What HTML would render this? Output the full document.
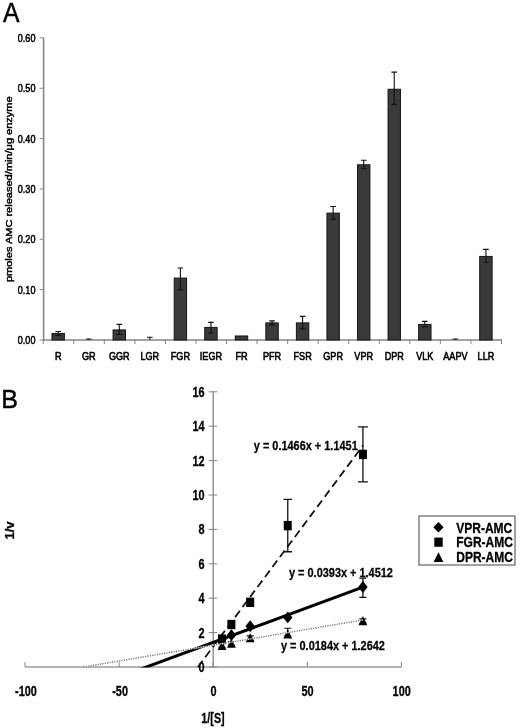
<!DOCTYPE html>
<html><head><meta charset="utf-8"><title>Figure</title>
<style>
html,body{margin:0;padding:0;background:#fff;}
svg{display:block;}
text{font-family:"Liberation Sans", Arial, sans-serif;fill:#000;}
</style></head><body>
<svg width="520" height="728" viewBox="0 0 520 728">
<rect width="520" height="728" fill="#fff"/>

<text transform="translate(3.0,21.8) scale(0.915,1.0)" font-size="27" font-weight="normal" text-anchor="start"  stroke="#000" stroke-width="0.5">A</text>
<g stroke="#858585" stroke-width="1.6" fill="none">
<line x1="43.6" y1="37.40" x2="43.6" y2="340.6"/>
<line x1="43.0" y1="340.0" x2="502.0" y2="340.0"/>
</g>
<g stroke="#858585" stroke-width="1" fill="none">
<line x1="39.7" y1="340.00" x2="43.2" y2="340.00"/>
<line x1="39.7" y1="289.65" x2="43.2" y2="289.65"/>
<line x1="39.7" y1="239.30" x2="43.2" y2="239.30"/>
<line x1="39.7" y1="188.95" x2="43.2" y2="188.95"/>
<line x1="39.7" y1="138.60" x2="43.2" y2="138.60"/>
<line x1="39.7" y1="88.25" x2="43.2" y2="88.25"/>
<line x1="39.7" y1="37.90" x2="43.2" y2="37.90"/>
<line x1="43.20" y1="340.0" x2="43.20" y2="344.0"/>
<line x1="73.75" y1="340.0" x2="73.75" y2="344.0"/>
<line x1="104.31" y1="340.0" x2="104.31" y2="344.0"/>
<line x1="134.86" y1="340.0" x2="134.86" y2="344.0"/>
<line x1="165.41" y1="340.0" x2="165.41" y2="344.0"/>
<line x1="195.97" y1="340.0" x2="195.97" y2="344.0"/>
<line x1="226.52" y1="340.0" x2="226.52" y2="344.0"/>
<line x1="257.07" y1="340.0" x2="257.07" y2="344.0"/>
<line x1="287.63" y1="340.0" x2="287.63" y2="344.0"/>
<line x1="318.18" y1="340.0" x2="318.18" y2="344.0"/>
<line x1="348.73" y1="340.0" x2="348.73" y2="344.0"/>
<line x1="379.29" y1="340.0" x2="379.29" y2="344.0"/>
<line x1="409.84" y1="340.0" x2="409.84" y2="344.0"/>
<line x1="440.39" y1="340.0" x2="440.39" y2="344.0"/>
<line x1="470.95" y1="340.0" x2="470.95" y2="344.0"/>
<line x1="501.50" y1="340.0" x2="501.50" y2="344.0"/>
</g>
<text transform="translate(35.4,343.9) scale(0.8,1.0)" font-size="11.3" font-weight="normal" text-anchor="end"  stroke="#000" stroke-width="0.55">0.00</text>
<text transform="translate(35.4,293.54999999999995) scale(0.8,1.0)" font-size="11.3" font-weight="normal" text-anchor="end"  stroke="#000" stroke-width="0.55">0.10</text>
<text transform="translate(35.4,243.20000000000002) scale(0.8,1.0)" font-size="11.3" font-weight="normal" text-anchor="end"  stroke="#000" stroke-width="0.55">0.20</text>
<text transform="translate(35.4,192.85) scale(0.8,1.0)" font-size="11.3" font-weight="normal" text-anchor="end"  stroke="#000" stroke-width="0.55">0.30</text>
<text transform="translate(35.4,142.5) scale(0.8,1.0)" font-size="11.3" font-weight="normal" text-anchor="end"  stroke="#000" stroke-width="0.55">0.40</text>
<text transform="translate(35.4,92.15) scale(0.8,1.0)" font-size="11.3" font-weight="normal" text-anchor="end"  stroke="#000" stroke-width="0.55">0.50</text>
<text transform="translate(35.4,41.799999999999976) scale(0.8,1.0)" font-size="11.3" font-weight="normal" text-anchor="end"  stroke="#000" stroke-width="0.55">0.60</text>
<text transform="translate(11.5,189.2) rotate(-90) scale(1.06,0.84)" font-size="10.4" font-weight="normal" text-anchor="middle"  stroke="#000" stroke-width="0.5">pmoles AMC released/min/μg enzyme</text>
<rect x="51.98" y="333.45" width="12.4" height="6.55" fill="#3a3a3a" stroke="#141414" stroke-width="1"/>
<path d="M58.18 331.44V335.47M55.38 331.44h5.6M55.38 335.47h5.6" stroke="#111" stroke-width="1.1" fill="none"/>
<text transform="translate(58.17666666666668,360) scale(0.835,1.0)" font-size="10.9" font-weight="normal" text-anchor="middle"  stroke="#000" stroke-width="0.6">R</text>
<path d="M88.73 338.99V340.00M85.93 338.99h5.6" stroke="#111" stroke-width="1.1" fill="none"/>
<text transform="translate(88.73,360) scale(0.835,1.0)" font-size="10.9" font-weight="normal" text-anchor="middle"  stroke="#000" stroke-width="0.6">GR</text>
<rect x="113.08" y="329.93" width="12.4" height="10.07" fill="#3a3a3a" stroke="#141414" stroke-width="1"/>
<path d="M119.28 324.39V334.46M116.48 324.39h5.6M116.48 334.46h5.6" stroke="#111" stroke-width="1.1" fill="none"/>
<text transform="translate(119.28333333333335,360) scale(0.835,1.0)" font-size="10.9" font-weight="normal" text-anchor="middle"  stroke="#000" stroke-width="0.6">GGR</text>
<path d="M149.84 337.23V340.00M147.04 337.23h5.6" stroke="#111" stroke-width="1.1" fill="none"/>
<text transform="translate(149.83666666666664,360) scale(0.835,1.0)" font-size="10.9" font-weight="normal" text-anchor="middle"  stroke="#000" stroke-width="0.6">LGR</text>
<rect x="174.19" y="278.07" width="12.4" height="61.93" fill="#3a3a3a" stroke="#141414" stroke-width="1"/>
<path d="M180.39 268.00V289.65M177.59 268.00h5.6M177.59 289.65h5.6" stroke="#111" stroke-width="1.1" fill="none"/>
<text transform="translate(180.39,360) scale(0.835,1.0)" font-size="10.9" font-weight="normal" text-anchor="middle"  stroke="#000" stroke-width="0.6">FGR</text>
<rect x="204.74" y="327.41" width="12.4" height="12.59" fill="#3a3a3a" stroke="#141414" stroke-width="1"/>
<path d="M210.94 322.38V332.95M208.14 322.38h5.6M208.14 332.95h5.6" stroke="#111" stroke-width="1.1" fill="none"/>
<text transform="translate(210.94333333333333,360) scale(0.835,1.0)" font-size="10.9" font-weight="normal" text-anchor="middle"  stroke="#000" stroke-width="0.6">IEGR</text>
<rect x="235.30" y="335.97" width="12.4" height="4.03" fill="#3a3a3a" stroke="#141414" stroke-width="1"/>
<text transform="translate(241.49666666666667,360) scale(0.835,1.0)" font-size="10.9" font-weight="normal" text-anchor="middle"  stroke="#000" stroke-width="0.6">FR</text>
<rect x="265.85" y="322.88" width="12.4" height="17.12" fill="#3a3a3a" stroke="#141414" stroke-width="1"/>
<path d="M272.05 320.87V324.89M269.25 320.87h5.6M269.25 324.89h5.6" stroke="#111" stroke-width="1.1" fill="none"/>
<text transform="translate(272.05,360) scale(0.835,1.0)" font-size="10.9" font-weight="normal" text-anchor="middle"  stroke="#000" stroke-width="0.6">PFR</text>
<rect x="296.40" y="322.88" width="12.4" height="17.12" fill="#3a3a3a" stroke="#141414" stroke-width="1"/>
<path d="M302.60 316.34V328.92M299.80 316.34h5.6M299.80 328.92h5.6" stroke="#111" stroke-width="1.1" fill="none"/>
<text transform="translate(302.6033333333333,360) scale(0.835,1.0)" font-size="10.9" font-weight="normal" text-anchor="middle"  stroke="#000" stroke-width="0.6">FSR</text>
<rect x="326.96" y="213.12" width="12.4" height="126.88" fill="#3a3a3a" stroke="#141414" stroke-width="1"/>
<path d="M333.16 206.57V219.16M330.36 206.57h5.6M330.36 219.16h5.6" stroke="#111" stroke-width="1.1" fill="none"/>
<text transform="translate(333.15666666666664,360) scale(0.835,1.0)" font-size="10.9" font-weight="normal" text-anchor="middle"  stroke="#000" stroke-width="0.6">GPR</text>
<rect x="357.51" y="164.78" width="12.4" height="175.22" fill="#3a3a3a" stroke="#141414" stroke-width="1"/>
<path d="M363.71 160.25V168.81M360.91 160.25h5.6M360.91 168.81h5.6" stroke="#111" stroke-width="1.1" fill="none"/>
<text transform="translate(363.71,360) scale(0.835,1.0)" font-size="10.9" font-weight="normal" text-anchor="middle"  stroke="#000" stroke-width="0.6">VPR</text>
<rect x="388.06" y="89.26" width="12.4" height="250.74" fill="#3a3a3a" stroke="#141414" stroke-width="1"/>
<path d="M394.26 72.14V104.36M391.46 72.14h5.6M391.46 104.36h5.6" stroke="#111" stroke-width="1.1" fill="none"/>
<text transform="translate(394.2633333333333,360) scale(0.835,1.0)" font-size="10.9" font-weight="normal" text-anchor="middle"  stroke="#000" stroke-width="0.6">DPR</text>
<rect x="418.62" y="324.39" width="12.4" height="15.61" fill="#3a3a3a" stroke="#141414" stroke-width="1"/>
<path d="M424.82 321.37V326.91M422.02 321.37h5.6M422.02 326.91h5.6" stroke="#111" stroke-width="1.1" fill="none"/>
<text transform="translate(424.81666666666666,360) scale(0.835,1.0)" font-size="10.9" font-weight="normal" text-anchor="middle"  stroke="#000" stroke-width="0.6">VLK</text>
<path d="M455.37 338.99V340.00M452.57 338.99h5.6" stroke="#111" stroke-width="1.1" fill="none"/>
<text transform="translate(455.37,360) scale(0.835,1.0)" font-size="10.9" font-weight="normal" text-anchor="middle"  stroke="#000" stroke-width="0.6">AAPV</text>
<rect x="479.72" y="256.42" width="12.4" height="83.58" fill="#3a3a3a" stroke="#141414" stroke-width="1"/>
<path d="M485.92 249.37V262.46M483.12 249.37h5.6M483.12 262.46h5.6" stroke="#111" stroke-width="1.1" fill="none"/>
<text transform="translate(485.92333333333335,360) scale(0.835,1.0)" font-size="10.9" font-weight="normal" text-anchor="middle"  stroke="#000" stroke-width="0.6">LLR</text>
<text transform="translate(1.2,407.7) scale(0.95,1.0)" font-size="26.4" font-weight="normal" text-anchor="start"  stroke="#000" stroke-width="0.5">B</text>
<g stroke="#858585" fill="none">
<line x1="213.2" y1="391.30" x2="213.2" y2="667" stroke-width="1.3"/>
<line x1="25.00" y1="667" x2="401.40" y2="667" stroke-width="1" stroke="#6a6a6a"/>
</g>
<g stroke="#858585" stroke-width="1" fill="none">
<line x1="208.7" y1="667.00" x2="217.2" y2="667.00"/>
<line x1="208.7" y1="632.60" x2="217.2" y2="632.60"/>
<line x1="208.7" y1="598.20" x2="217.2" y2="598.20"/>
<line x1="208.7" y1="563.80" x2="217.2" y2="563.80"/>
<line x1="208.7" y1="529.40" x2="217.2" y2="529.40"/>
<line x1="208.7" y1="495.00" x2="217.2" y2="495.00"/>
<line x1="208.7" y1="460.60" x2="217.2" y2="460.60"/>
<line x1="208.7" y1="426.20" x2="217.2" y2="426.20"/>
<line x1="208.7" y1="391.80" x2="217.2" y2="391.80"/>
<line x1="25.00" y1="662" x2="25.00" y2="667"/>
<line x1="119.10" y1="662" x2="119.10" y2="667"/>
<line x1="213.20" y1="662" x2="213.20" y2="667"/>
<line x1="307.30" y1="662" x2="307.30" y2="667"/>
<line x1="401.40" y1="662" x2="401.40" y2="667"/>
</g>
<text transform="translate(204.5,672.0) scale(0.79,1.0)" font-size="13.8" font-weight="bold" text-anchor="end"  stroke="#000" stroke-width="0.3">0</text>
<text transform="translate(204.5,637.6) scale(0.79,1.0)" font-size="13.8" font-weight="bold" text-anchor="end"  stroke="#000" stroke-width="0.3">2</text>
<text transform="translate(204.5,603.2) scale(0.79,1.0)" font-size="13.8" font-weight="bold" text-anchor="end"  stroke="#000" stroke-width="0.3">4</text>
<text transform="translate(204.5,568.8) scale(0.79,1.0)" font-size="13.8" font-weight="bold" text-anchor="end"  stroke="#000" stroke-width="0.3">6</text>
<text transform="translate(204.5,534.4) scale(0.79,1.0)" font-size="13.8" font-weight="bold" text-anchor="end"  stroke="#000" stroke-width="0.3">8</text>
<text transform="translate(204.5,500.0) scale(0.79,1.0)" font-size="13.8" font-weight="bold" text-anchor="end"  stroke="#000" stroke-width="0.3">10</text>
<text transform="translate(204.5,465.6) scale(0.79,1.0)" font-size="13.8" font-weight="bold" text-anchor="end"  stroke="#000" stroke-width="0.3">12</text>
<text transform="translate(204.5,431.20000000000005) scale(0.79,1.0)" font-size="13.8" font-weight="bold" text-anchor="end"  stroke="#000" stroke-width="0.3">14</text>
<text transform="translate(204.5,396.8) scale(0.79,1.0)" font-size="13.8" font-weight="bold" text-anchor="end"  stroke="#000" stroke-width="0.3">16</text>
<text transform="translate(26.0,696.3) scale(0.79,1.0)" font-size="13.8" font-weight="bold" text-anchor="middle"  stroke="#000" stroke-width="0.3">-100</text>
<text transform="translate(120.1,696.3) scale(0.79,1.0)" font-size="13.8" font-weight="bold" text-anchor="middle"  stroke="#000" stroke-width="0.3">-50</text>
<text transform="translate(213.5,696.3) scale(0.79,1.0)" font-size="13.8" font-weight="bold" text-anchor="middle"  stroke="#000" stroke-width="0.3">0</text>
<text transform="translate(307.59999999999997,696.3) scale(0.79,1.0)" font-size="13.8" font-weight="bold" text-anchor="middle"  stroke="#000" stroke-width="0.3">50</text>
<text transform="translate(401.7,696.3) scale(0.79,1.0)" font-size="13.8" font-weight="bold" text-anchor="middle"  stroke="#000" stroke-width="0.3">100</text>
<text transform="translate(213,723) scale(0.78,1.0)" font-size="13.8" font-weight="bold" text-anchor="middle"  stroke="#000" stroke-width="0.3">1/[S]</text>
<text transform="translate(13.6,530.5) rotate(-90) scale(0.97,0.92)" font-size="13.5" font-weight="bold" text-anchor="middle"  stroke="#000" stroke-width="0.3">1/v</text>
<clipPath id="plotb"><rect x="20" y="380" width="400" height="287.4"/></clipPath>
<line x1="197.76" y1="667.22" x2="362.92" y2="445.58" clip-path="url(#plotb)" stroke="#111" stroke-width="1.8" stroke-dasharray="8 4.5"/>
<line x1="133.68" y1="671.69" x2="362.92" y2="587.12" clip-path="url(#plotb)" stroke="#000" stroke-width="3.0"/>
<path d="M222.00 633.58L226.69 639.48L222.00 645.38L217.30 639.48Z" fill="#000"/>
<path d="M231.39 629.28L236.09 635.18L231.39 641.08L226.69 635.18Z" fill="#000"/>
<path d="M250.18 620.34L254.88 626.24L250.18 632.14L245.48 626.24Z" fill="#000"/>
<path d="M287.76 611.56L292.46 617.46L287.76 623.36L283.06 617.46Z" fill="#000"/>
<path d="M362.92 578.08V597.34M359.32 578.08h7.2M359.32 597.34h7.2" stroke="#111" stroke-width="1.3" fill="none"/>
<path d="M362.92 581.12L367.62 587.02L362.92 592.92L358.22 587.02Z" fill="#000"/>
<rect x="218.00" y="634.44" width="8.0" height="9.4" fill="#000"/>
<rect x="227.39" y="619.82" width="8.0" height="9.4" fill="#000"/>
<rect x="246.18" y="597.63" width="8.0" height="9.4" fill="#000"/>
<path d="M287.76 499.47V551.76M283.56 499.47h8.4M283.56 551.76h8.4" stroke="#111" stroke-width="1.3" fill="none"/>
<rect x="283.76" y="520.92" width="8.0" height="9.4" fill="#000"/>
<path d="M362.92 426.89V481.93M357.92 426.89h10M357.92 481.93h10" stroke="#111" stroke-width="1.3" fill="none"/>
<rect x="358.92" y="449.71" width="8.0" height="9.4" fill="#000"/>
<path d="M222.00 643.78V647.22M218.50 643.78h7.0M218.50 647.22h7.0" stroke="#111" stroke-width="1.1" fill="none"/>
<path d="M222.00 640.70L226.40 649.90H217.59Z" fill="#000"/>
<path d="M231.39 641.72V645.16M227.89 641.72h7.0M227.89 645.16h7.0" stroke="#111" stroke-width="1.1" fill="none"/>
<path d="M231.39 638.64L235.79 647.84H226.99Z" fill="#000"/>
<path d="M250.18 635.87V640.00M246.68 635.87h7.0M246.68 640.00h7.0" stroke="#111" stroke-width="1.1" fill="none"/>
<path d="M250.18 633.13L254.58 642.33H245.78Z" fill="#000"/>
<path d="M287.76 628.30V635.70M284.26 628.30h7.0M284.26 635.70h7.0" stroke="#111" stroke-width="1.1" fill="none"/>
<path d="M287.76 629.18L292.16 638.38H283.36Z" fill="#000"/>
<path d="M362.92 618.84V622.97M359.42 618.84h7.0M359.42 622.97h7.0" stroke="#111" stroke-width="1.1" fill="none"/>
<path d="M362.92 616.10L367.32 625.30H358.52Z" fill="#000"/>
<line x1="83.51" y1="667.00" x2="362.92" y2="619.94" clip-path="url(#plotb)" stroke="#fff" stroke-width="1.4" stroke-dasharray="1.2 1.2" stroke-dashoffset="1.2"/>
<line x1="83.51" y1="667.00" x2="362.92" y2="619.94" clip-path="url(#plotb)" stroke="#777" stroke-width="1.4" stroke-dasharray="1.2 1.2"/>
<text transform="translate(253.8,450) scale(0.875,1.0)" font-size="12.5" font-weight="bold" text-anchor="start"  stroke="#000" stroke-width="0.25">y = 0.1466x + 1.1451</text>
<text transform="translate(289,577) scale(0.875,1.0)" font-size="12.5" font-weight="bold" text-anchor="start"  stroke="#000" stroke-width="0.25">y = 0.0393x + 1.4512</text>
<text transform="translate(281,650) scale(0.875,1.0)" font-size="12.5" font-weight="bold" text-anchor="start"  stroke="#000" stroke-width="0.25">y = 0.0184x + 1.2642</text>
<rect x="419" y="516" width="96" height="49" fill="#fff" stroke="#444" stroke-width="1"/>
<path d="M438.5 522.0L443.7 527.2L438.5 532.4000000000001L433.3 527.2Z" fill="#000"/>
<rect x="434.3" y="537.6" width="8.4" height="9.2" fill="#000"/>
<path d="M438.5 552.3L443.4 562.0H433.6Z" fill="#000"/>
<text transform="translate(456.3,532.5) scale(0.845,1.0)" font-size="14.2" font-weight="bold" text-anchor="start"  stroke="#000" stroke-width="0.3">VPR-AMC</text>
<text transform="translate(456.3,547.3) scale(0.845,1.0)" font-size="14.2" font-weight="bold" text-anchor="start"  stroke="#000" stroke-width="0.3">FGR-AMC</text>
<text transform="translate(456.3,562.1) scale(0.845,1.0)" font-size="14.2" font-weight="bold" text-anchor="start"  stroke="#000" stroke-width="0.3">DPR-AMC</text>
</svg></body></html>
